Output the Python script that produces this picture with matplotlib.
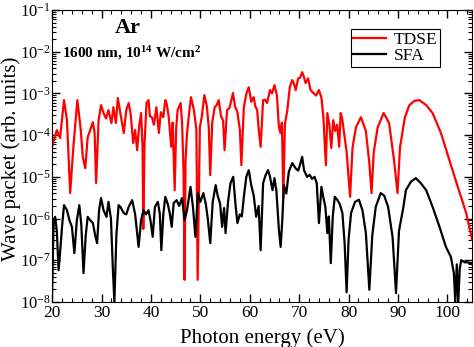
import matplotlib
matplotlib.use("Agg")
import matplotlib.pyplot as plt
from matplotlib.ticker import LogLocator, MultipleLocator, LogFormatterMathtext, NullFormatter
import numpy as np

plt.rcParams['font.family'] = ['Liberation Serif', 'DejaVu Serif']
plt.rcParams['mathtext.fontset'] = 'custom'
plt.rcParams['mathtext.rm'] = 'Liberation Serif'
plt.rcParams['mathtext.bf'] = 'Liberation Serif:bold'
plt.rcParams['mathtext.it'] = 'Liberation Serif:italic'

# TDSE: photon energy (eV) and log10 of wave packet
tdse_e = [20.0, 20.5, 20.95, 21.6, 22.4, 23.0, 23.65, 24.3, 25.1, 25.8, 26.2, 26.7, 27.2, 27.7,
          28.25, 28.6, 28.9, 29.4, 29.9, 30.4, 30.9, 31.4, 32.0, 32.4, 32.9, 33.3, 33.8, 34.5,
          35.0, 35.5, 35.9, 36.4, 36.8, 37.2, 37.6, 38.0, 38.3, 38.45, 38.7, 39.1, 39.5, 39.8,
          40.2, 40.6, 41.1, 41.6, 42.0, 42.5, 42.9, 43.2, 43.6, 44.1, 44.4, 44.8, 45.1, 45.4,
          46.0, 46.3, 46.6, 46.8, 47.0, 47.3, 47.7, 48.1, 48.7, 49.2, 49.45, 49.9, 50.3, 50.8,
          51.3, 51.7, 52.0, 52.4, 52.9, 53.3, 53.7, 54.2, 54.6, 54.9, 55.4, 55.9, 56.6, 57.0,
          57.5, 58.0, 58.3, 58.8, 59.35, 59.8, 60.3, 60.8, 61.1, 61.5, 61.8, 62.2, 62.7, 63.1,
          63.5, 64.1, 64.5, 65.0, 65.5, 65.9, 66.2, 66.5, 66.8, 67.1, 67.6, 68.1, 68.6, 68.9,
          69.3, 69.8, 70.2, 70.6, 70.9, 71.3, 71.8, 72.3, 72.9, 73.4, 74.0, 74.5, 74.9, 75.4,
          75.7, 76.1, 76.5, 76.9, 77.3, 77.7, 78.1, 78.4, 78.7, 79.1, 79.6, 80.3, 80.8, 81.5,
          82.5, 83.5, 84.2, 84.65, 85.1, 85.9, 87.1, 88.2, 89.2, 89.9, 90.4, 91.4, 92.3, 93.3,
          94.3, 95.7, 97.0, 98.7, 100.4, 102.1, 103.8, 105.0]
tdse_log = [-4.28, -4.05, -3.88, -4.07, -3.16, -3.64, -5.39, -4.28, -3.16, -3.88, -4.52, -4.79,
            -4.05, -3.88, -3.69, -3.95, -5.15, -3.64, -3.28, -3.47, -3.60, -3.40, -3.71, -3.33,
            -3.71, -3.11, -3.47, -3.95, -3.40, -3.23, -3.50, -4.19, -3.88, -4.36, -3.80, -3.47,
            -4.30, -6.25, -4.20, -3.23, -3.16, -3.55, -3.57, -3.75, -3.33, -3.95, -3.45, -3.57,
            -3.16, -3.25, -3.57, -4.28, -3.70, -5.32, -3.85, -3.40, -3.23, -3.70, -4.91, -7.47,
            -4.60, -3.95, -3.50, -3.09, -3.40, -3.88, -7.47, -3.81, -3.55, -3.04, -3.30, -3.81,
            -4.96, -3.70, -3.33, -3.28, -3.16, -3.55, -3.65, -4.36, -3.40, -3.35, -2.99, -3.30,
            -3.45, -3.88, -4.72, -3.33, -2.99, -2.85, -3.20, -3.09, -3.30, -3.40, -3.85, -4.28,
            -3.16, -3.15, -3.23, -2.92, -3.00, -2.80, -3.05, -3.81, -3.95, -3.70, -5.50, -3.75,
            -3.40, -2.85, -2.68, -2.75, -2.92, -2.64, -2.62, -2.49, -2.58, -2.75, -2.64, -2.92,
            -2.99, -3.05, -2.92, -3.10, -3.57, -4.72, -3.47, -3.75, -4.31, -3.64, -3.90, -3.75,
            -4.28, -3.47, -3.60, -3.95, -4.40, -5.48, -4.30, -3.81, -3.57, -3.90, -4.67, -5.39,
            -4.40, -3.81, -3.47, -3.71, -4.60, -5.39, -4.30, -3.57, -3.28, -3.18, -3.16, -3.28,
            -3.47, -3.95, -4.60, -5.24, -5.87, -6.50]

# SFA: photon energy (eV) and log10 of wave packet
sfa_e = [20.0, 20.3, 20.6, 20.95, 21.3, 21.6, 22.0, 22.4, 23.0, 23.5, 24.0, 24.5, 25.0, 25.5,
         25.9, 26.35, 26.8, 27.2, 27.7, 28.25, 28.7, 29.1, 29.5, 29.9, 30.4, 31.0, 31.4, 31.9,
         32.3, 32.6, 33.0, 33.45, 33.8, 34.5, 35.0, 35.5, 36.2, 36.8, 37.5, 38.0, 38.5, 39.0,
         39.5, 39.9, 40.35, 40.8, 41.4, 41.8, 42.1, 42.5, 42.9, 43.4, 43.8, 44.2, 44.6, 45.2,
         45.7, 46.3, 46.8, 47.3, 48.0, 48.5, 49.0, 49.5, 50.0, 50.6, 51.1, 51.5, 52.0, 52.5,
         53.1, 53.5, 54.0, 54.4, 54.8, 55.1, 55.6, 56.1, 56.65, 57.1, 57.5, 58.0, 58.4, 58.8,
         59.3, 59.8, 60.3, 60.8, 61.3, 61.8, 62.2, 62.7, 63.2, 63.7, 64.1, 64.6, 65.0, 65.4,
         65.9, 66.25, 66.6, 66.9, 67.4, 67.9, 68.6, 69.3, 69.8, 70.2, 70.6, 71.0, 71.6, 72.1,
         72.6, 73.1, 73.55, 74.0, 74.5, 74.9, 75.3, 75.7, 76.0, 76.4, 76.8, 77.2, 77.7, 78.2,
         78.75, 79.2, 79.6, 80.0, 80.5, 81.3, 82.1, 82.8, 83.5, 84.2, 84.8, 85.5, 86.5, 87.2,
         88.0, 88.9, 89.6, 90.2, 91.1, 91.6, 92.6, 93.6, 94.6, 95.7, 97.0, 98.4, 99.7, 100.7,
         101.3, 101.6, 101.9, 102.2, 102.5, 102.8, 103.5, 104.1, 105.0]
sfa_log = [-7.79, -6.04, -5.96, -6.30, -7.24, -6.83, -6.20, -5.68, -5.80, -6.04, -6.20, -6.83,
           -6.04, -5.68, -6.15, -7.31, -6.40, -5.96, -6.04, -6.11, -6.40, -6.59, -5.80, -5.51,
           -5.80, -5.96, -5.60, -6.00, -7.24, -8.00, -6.40, -5.68, -5.72, -5.87, -5.90, -5.72,
           -5.56, -5.90, -6.68, -6.04, -5.80, -5.90, -5.80, -6.04, -6.44, -5.72, -5.60, -5.90,
           -6.76, -5.90, -5.48, -5.65, -5.87, -6.20, -5.63, -5.56, -5.70, -5.51, -6.04, -5.80,
           -5.24, -5.72, -6.44, -5.39, -5.60, -5.39, -5.65, -6.00, -6.59, -5.60, -5.20, -5.45,
           -5.65, -6.20, -5.75, -6.35, -5.60, -5.15, -5.00, -5.65, -6.11, -5.90, -5.95, -5.48,
           -5.00, -4.84, -5.20, -5.45, -5.96, -5.70, -6.76, -5.15, -4.96, -4.84, -5.00, -5.32,
           -5.03, -5.35, -6.28, -6.68, -6.00, -5.20, -5.40, -4.88, -4.67, -4.80, -4.85, -4.70,
           -4.52, -4.85, -5.00, -4.95, -5.05, -5.00, -5.15, -6.11, -5.24, -5.50, -5.72, -6.35,
           -5.95, -7.07, -5.95, -5.48, -5.55, -5.65, -5.87, -6.60, -7.77, -6.50, -5.87, -5.60,
           -5.55, -5.80, -6.35, -7.71, -6.40, -5.72, -5.39, -5.45, -5.72, -6.44, -7.79, -6.30,
           -5.72, -5.32, -5.12, -5.03, -5.15, -5.32, -5.72, -6.20, -6.68, -6.92, -7.30, -8.00,
           -7.10, -8.00, -7.20, -7.00, -7.05, -7.05, -7.10]

tdse_e = np.array(tdse_e); tdse_v = 10.0 ** np.array(tdse_log)
sfa_e = np.array(sfa_e); sfa_v = 10.0 ** np.array(sfa_log)

fig = plt.figure(figsize=(4.74, 3.47), dpi=100)
ax = fig.add_axes([0.110, 0.130, 0.886, 0.841])

ax.plot(tdse_e, tdse_v, color='#ff0000', lw=1.6, label='TDSE')
ax.plot(sfa_e, sfa_v, color='black', lw=1.6, label='SFA')

ax.set_yscale('log')
ax.set_xlim(20, 105)
ax.set_ylim(1e-8, 1e-1)
ax.xaxis.set_major_locator(MultipleLocator(10))
ax.xaxis.set_minor_locator(MultipleLocator(2))
ax.yaxis.set_major_locator(LogLocator(base=10, numticks=20))
ax.yaxis.set_minor_locator(LogLocator(base=10, subs=np.arange(2, 10), numticks=20))
ax.yaxis.set_major_formatter(LogFormatterMathtext())
ax.yaxis.set_minor_formatter(NullFormatter())
ax.tick_params(which='both', direction='in', top=True, right=True)
ax.tick_params(axis='x', labelsize=12.5, pad=2)
ax.tick_params(axis='y', labelsize=12, pad=1)
ax.tick_params(which='major', length=6, width=1)
ax.tick_params(which='minor', length=3, width=0.8)

ax.set_xlabel('Photon energy (eV)', fontsize=15)
ax.set_ylabel('Wave packet (arb. units)', fontsize=15)
ax.xaxis.set_label_coords(0.5, -0.09)
ax.yaxis.set_label_coords(-0.074, 0.49)

ax.text(35.4, 10 ** -1.43, 'Ar', fontsize=16, fontweight='bold', ha='center', va='center')
ax.text(22.0, 10 ** -2.03, r'1600 nm, 10$^{\mathbf{14}}$ W/cm$^{\mathbf{2}}$', fontsize=11,
        fontweight='bold', ha='left', va='center')

leg = ax.legend(loc='upper right', bbox_to_anchor=(0.924, 0.935), fontsize=12.5,
                fancybox=False, framealpha=1, edgecolor='black', handlelength=1.9,
                borderpad=0.15, labelspacing=0.0, handletextpad=0.45, borderaxespad=0)
leg.get_frame().set_linewidth(0.8)

fig.savefig('out.png', dpi=100)
